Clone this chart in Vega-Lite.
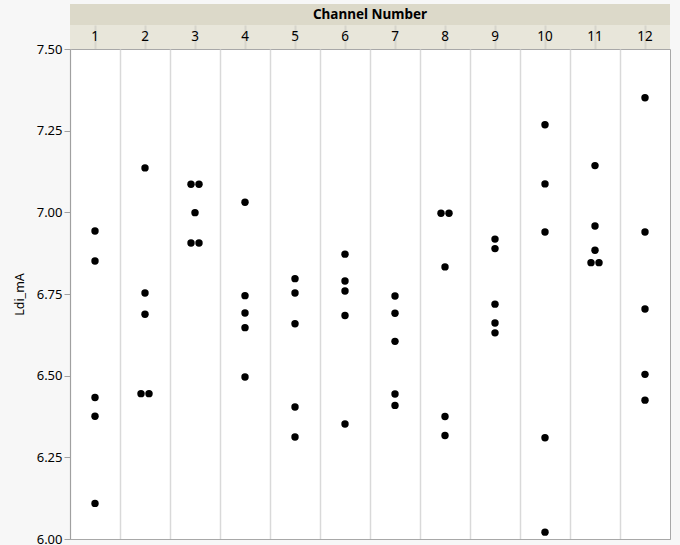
{
  "$schema": "https://vega.github.io/schema/vega-lite/v6.json",
  "background": "#f7f7f7",
  "padding": {"left": 12, "top": 4, "right": 10, "bottom": 0},
  "spacing": 0,
  "bounds": "flush",
  "config": {
    "font": "Noto Sans",
    "view": {"stroke": null},
    "concat": {"spacing": 0}
  },
  "data": {
    "values": [
      {"Channel": 1, "Ldi_mA": 6.943}, {"Channel": 1, "Ldi_mA": 6.851}, {"Channel": 1, "Ldi_mA": 6.433}, {"Channel": 1, "Ldi_mA": 6.376}, {"Channel": 1, "Ldi_mA": 6.109},
      {"Channel": 2, "Ldi_mA": 7.136}, {"Channel": 2, "Ldi_mA": 6.753}, {"Channel": 2, "Ldi_mA": 6.688}, {"Channel": 2, "Ldi_mA": 6.445}, {"Channel": 2, "Ldi_mA": 6.445},
      {"Channel": 3, "Ldi_mA": 7.086}, {"Channel": 3, "Ldi_mA": 7.086}, {"Channel": 3, "Ldi_mA": 6.999}, {"Channel": 3, "Ldi_mA": 6.906}, {"Channel": 3, "Ldi_mA": 6.906},
      {"Channel": 4, "Ldi_mA": 7.031}, {"Channel": 4, "Ldi_mA": 6.745}, {"Channel": 4, "Ldi_mA": 6.692}, {"Channel": 4, "Ldi_mA": 6.647}, {"Channel": 4, "Ldi_mA": 6.496},
      {"Channel": 5, "Ldi_mA": 6.797}, {"Channel": 5, "Ldi_mA": 6.753}, {"Channel": 5, "Ldi_mA": 6.659}, {"Channel": 5, "Ldi_mA": 6.404}, {"Channel": 5, "Ldi_mA": 6.312},
      {"Channel": 6, "Ldi_mA": 6.872}, {"Channel": 6, "Ldi_mA": 6.79}, {"Channel": 6, "Ldi_mA": 6.759}, {"Channel": 6, "Ldi_mA": 6.684}, {"Channel": 6, "Ldi_mA": 6.352},
      {"Channel": 7, "Ldi_mA": 6.744}, {"Channel": 7, "Ldi_mA": 6.691}, {"Channel": 7, "Ldi_mA": 6.605}, {"Channel": 7, "Ldi_mA": 6.444}, {"Channel": 7, "Ldi_mA": 6.409},
      {"Channel": 8, "Ldi_mA": 6.997}, {"Channel": 8, "Ldi_mA": 6.997}, {"Channel": 8, "Ldi_mA": 6.833}, {"Channel": 8, "Ldi_mA": 6.375}, {"Channel": 8, "Ldi_mA": 6.317},
      {"Channel": 9, "Ldi_mA": 6.918}, {"Channel": 9, "Ldi_mA": 6.889}, {"Channel": 9, "Ldi_mA": 6.719}, {"Channel": 9, "Ldi_mA": 6.661}, {"Channel": 9, "Ldi_mA": 6.631},
      {"Channel": 10, "Ldi_mA": 7.268}, {"Channel": 10, "Ldi_mA": 7.087}, {"Channel": 10, "Ldi_mA": 6.94}, {"Channel": 10, "Ldi_mA": 6.31}, {"Channel": 10, "Ldi_mA": 6.021},
      {"Channel": 11, "Ldi_mA": 7.143}, {"Channel": 11, "Ldi_mA": 6.958}, {"Channel": 11, "Ldi_mA": 6.884}, {"Channel": 11, "Ldi_mA": 6.846}, {"Channel": 11, "Ldi_mA": 6.846},
      {"Channel": 12, "Ldi_mA": 7.351}, {"Channel": 12, "Ldi_mA": 6.94}, {"Channel": 12, "Ldi_mA": 6.704}, {"Channel": 12, "Ldi_mA": 6.504}, {"Channel": 12, "Ldi_mA": 6.425}
    ]
  },
  "vconcat": [
    {
      "width": 600,
      "height": 21,
      "data": {"values": [{"label": "Channel Number"}]},
      "view": {"fill": "#dcd9c9", "stroke": null},
      "mark": {"type": "text", "fontWeight": "bold", "fontSize": 13.5, "color": "black"},
      "encoding": {"text": {"field": "label"}}
    },
    {
      "width": 600,
      "height": 24,
      "view": {"fill": "#e8e6da", "stroke": null},
      "transform": [{"aggregate": [{"op": "count", "as": "n"}], "groupby": ["Channel"]}],
      "mark": {"type": "text", "fontSize": 13.5, "color": "black"},
      "encoding": {
        "x": {
          "field": "Channel", "type": "ordinal",
          "scale": {"paddingInner": 0, "paddingOuter": 0},
          "axis": {"grid": true, "gridColor": "#d6d5cc", "gridWidth": 2, "bandPosition": 0, "labels": false, "ticks": false, "domain": false, "title": null, "minExtent": 0, "maxExtent": 0, "offset": 0, "labelPadding": 0}
        },
        "text": {"field": "Channel"}
      }
    },
    {
      "width": 600,
      "height": 490,
      "view": {"fill": "white", "stroke": "#a8a8a8"},
      "encoding": {
        "x": {
          "field": "Channel", "type": "ordinal",
          "scale": {"paddingInner": 0, "paddingOuter": 0},
          "axis": {"grid": true, "gridColor": "#d9d9d9", "gridWidth": 1.5, "bandPosition": 0, "labels": false, "ticks": false, "domain": true, "domainColor": "#a8a8a8", "title": null}
        },
        "y": {
          "field": "Ldi_mA", "type": "quantitative",
          "scale": {"domain": [6, 7.5], "nice": false, "zero": false},
          "axis": {"values": [6, 6.25, 6.5, 6.75, 7, 7.25, 7.5], "format": ".2f", "grid": false, "tickColor": "#a0a0a0", "domainColor": "#a0a0a0", "tickSize": 6, "labelFontSize": 13, "labelColor": "black", "title": "Ldi_mA", "titleFontWeight": "normal", "titleFontSize": 12.5, "titleColor": "black", "titlePadding": 10}
        }
      },
      "layer": [
        {
          "transform": [
            {"joinaggregate": [{"op": "count", "as": "n"}], "groupby": ["Channel", "Ldi_mA"]},
            {"filter": "datum.n == 1"}
          ],
          "mark": {"type": "point", "filled": true, "color": "black", "opacity": 1, "size": 55}
        },
        {
          "transform": [
            {"joinaggregate": [{"op": "count", "as": "n"}], "groupby": ["Channel", "Ldi_mA"]},
            {"window": [{"op": "row_number", "as": "k"}], "groupby": ["Channel", "Ldi_mA"]},
            {"filter": "datum.n == 2"}
          ],
          "mark": {"type": "point", "filled": true, "color": "black", "opacity": 1, "size": 55},
          "encoding": {
            "xOffset": {"field": "k", "type": "ordinal", "scale": {"type": "point", "domain": [1, 2], "range": [21, 29], "padding": 0}}
          }
        }
      ]
    }
  ]
}
